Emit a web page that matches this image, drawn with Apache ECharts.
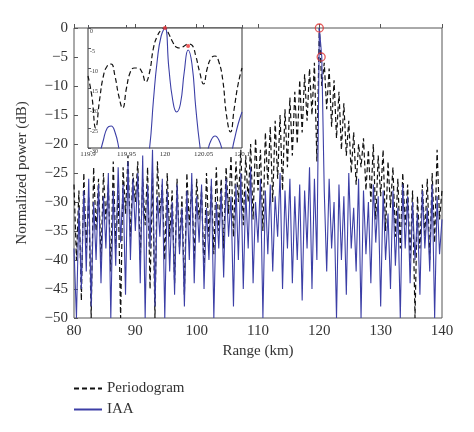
<!DOCTYPE html><html><head><meta charset="utf-8"><script src="https://cdn.jsdelivr.net/npm/echarts@6/dist/echarts.min.js"></script></head><body style="margin:0;background:#fff"><div id="c" style="width:474px;height:432px"></div><script>
var xStart=80, xStep=0.4;
var periodogram=[-27,-40,-28,-47,-25,-38,-29,-50,-24,-35,
-26,-40,-25,-33,-27,-42,-23,-38,-28,-50,
-24,-32,-22,-36,-25,-30,-23,-40,-26,-34,
-24,-45,-25,-50,-23,-32,-27,-40,-25,-36,
-28,-44,-26,-38,-29,-46,-25,-34,-27,-40,
-26,-33,-28,-42,-25,-36,-27,-39,-24,-35,
-26,-38,-24,-32,-22,-36,-23,-30,-21,-34,
-22,-30,-20,-33,-19,-28,-21,-35,-18,-27,
-17,-30,-16,-26,-15,-28,-14,-24,-12,-22,
-11,-20,-9,-18,-8,-16,-7,-15,-6,-23,
0,-10,-6,-14,-7,-17,-9,-19,-11,-21,
-13,-22,-16,-25,-18,-27,-20,-24,-19,-28,
-21,-30,-20,-33,-22,-29,-21,-35,-23,-31,
-24,-36,-26,-38,-25,-34,-27,-40,-28,-50,
-29,-38,-27,-36,-26,-40,-25,-37,-21,-33,-28];
var iaa=[-38,-50,-31,-45,-28,-42,-26,-48,-30,-40,
-27,-44,-29,-38,-25,-50,-28,-41,-24,-37,
-27,-46,-23,-40,-26,-35,-25,-44,-22,-50,
-27,-38,-21,-48,-29,-36,-26,-50,-28,-42,
-30,-46,-27,-39,-31,-48,-28,-40,-25,-44,
-29,-37,-27,-45,-31,-40,-26,-50,-30,-38,
-28,-43,-26,-36,-29,-48,-27,-40,-25,-45,
-28,-38,-24,-44,-30,-37,-26,-50,-28,-39,
-27,-42,-29,-36,-25,-45,-28,-38,-26,-44,
-29,-40,-27,-47,-28,-38,-24,-45,-26,-40,
0,-5,-28,-42,-26,-38,-30,-50,-27,-40,
-29,-46,-25,-38,-31,-42,-26,-50,-28,-39,
-30,-44,-27,-37,-29,-48,-28,-40,-32,-45,
-28,-41,-31,-50,-27,-38,-29,-44,-30,-40,
-32,-46,-28,-38,-31,-42,-27,-50,-29,-39,-33];
var insetStart=119.9, insetStep=0.005;
var insetPeriodogram=[-12,-17,-25,-18,-12,-9.5,-9,-12,-17,-20,-15,-11,-10,-10,-11,-13.5,-11,-5,-2,-0.5,0,-1.5,-3.5,-4.8,-5,-4.5,-4,-4.3,-7,-11,-14,-10,-7.5,-7,-8.5,-13,-22,-26,-20,-14,-10];
var insetIaa=[-40,-40,-38,-32,-28,-25,-24.5,-26,-30,-36,-40,-45,-45,-42,-38,-35,-30,-18,-8,-2,0,-10,-18,-21,-19,-11,-5.5,-9,-20,-29,-35,-31,-28,-27,-28,-31,-34,-32,-28,-24,-21];
var mainPeaks=[[120,0],[120.3,-5]];
var insetPeaks=[[120,0],[120.03,-4.5]];
function pts(s,st,v){return v.map(function(y,i){return [+(s+i*st).toFixed(4),y];});}
var F='Liberation Serif';
var ch=echarts.init(document.getElementById('c'));
ch.setOption({animation:false,
grid:[{left:74,top:28,width:368,height:290,show:true,borderColor:'#555',borderWidth:1},
{left:88,top:28,width:154,height:120,show:true,backgroundColor:'#fff',borderColor:'#333',borderWidth:1,zlevel:1}],
xAxis:[{gridIndex:0,type:'value',min:80,max:140,interval:10,name:'Range (km)',nameLocation:'middle',nameGap:22,nameTextStyle:{fontFamily:F,fontSize:15,color:'#333'},axisLine:{show:false},axisTick:{inside:true,length:4,lineStyle:{color:'#555'}},splitLine:{show:false},axisLabel:{fontFamily:F,fontSize:15,color:'#333',margin:6}},
{gridIndex:1,type:'value',min:119.9,max:120.1,interval:0.05,zlevel:1,axisLine:{show:false},axisTick:{inside:true,length:3},splitLine:{show:false},axisLabel:{fontFamily:F,fontSize:7,color:'#333',margin:3}}],
yAxis:[{gridIndex:0,type:'value',min:-50,max:0,interval:5,name:'Normalized power (dB)',nameLocation:'middle',nameGap:44,nameTextStyle:{fontFamily:F,fontSize:15,color:'#333'},axisLine:{show:false},axisTick:{inside:true,length:4,lineStyle:{color:'#555'}},splitLine:{show:false},axisLabel:{fontFamily:F,fontSize:15,color:'#333',margin:6,formatter:function(v){return v<0?'\u2212'+(-v):v;}}},
{gridIndex:1,type:'value',min:-30,max:0,interval:5,zlevel:1,axisLine:{show:false},axisTick:{inside:true,length:3},splitLine:{show:false},axisLabel:{inside:true,showMaxLabel:true,fontFamily:F,fontSize:6,color:'#333',margin:2,verticalAlign:'top'}}],
legend:{orient:'vertical',left:68,top:376,itemWidth:28,itemHeight:10,itemGap:6,itemStyle:{opacity:0},textStyle:{fontFamily:F,fontSize:15,color:'#333'},data:['Periodogram','IAA']},
series:[
{name:'Periodogram',type:'line',xAxisIndex:0,yAxisIndex:0,data:pts(xStart,xStep,periodogram),symbol:'none',lineStyle:{color:'#111',width:1.2,type:[5,3]},itemStyle:{color:'#111'}},
{name:'IAA',type:'line',xAxisIndex:0,yAxisIndex:0,data:pts(xStart,xStep,iaa),symbol:'none',lineStyle:{color:'#3c3fa6',width:1.1},itemStyle:{color:'#3c3fa6'}},
{type:'scatter',xAxisIndex:0,yAxisIndex:0,data:mainPeaks,symbol:'circle',symbolSize:8,itemStyle:{color:'transparent',borderColor:'#d33',borderWidth:1.3},z:5},
{type:'line',xAxisIndex:1,yAxisIndex:1,zlevel:1,data:pts(insetStart,insetStep,insetPeriodogram),symbol:'none',smooth:true,lineStyle:{color:'#111',width:1.2,type:[5,3]}},
{type:'line',xAxisIndex:1,yAxisIndex:1,zlevel:1,data:pts(insetStart,insetStep,insetIaa),symbol:'none',smooth:true,lineStyle:{color:'#3c3fa6',width:1.1}},
{type:'scatter',xAxisIndex:1,yAxisIndex:1,zlevel:1,data:insetPeaks,symbol:'circle',symbolSize:4,itemStyle:{color:'#e33'},z:5}
]});
</script></body></html>
